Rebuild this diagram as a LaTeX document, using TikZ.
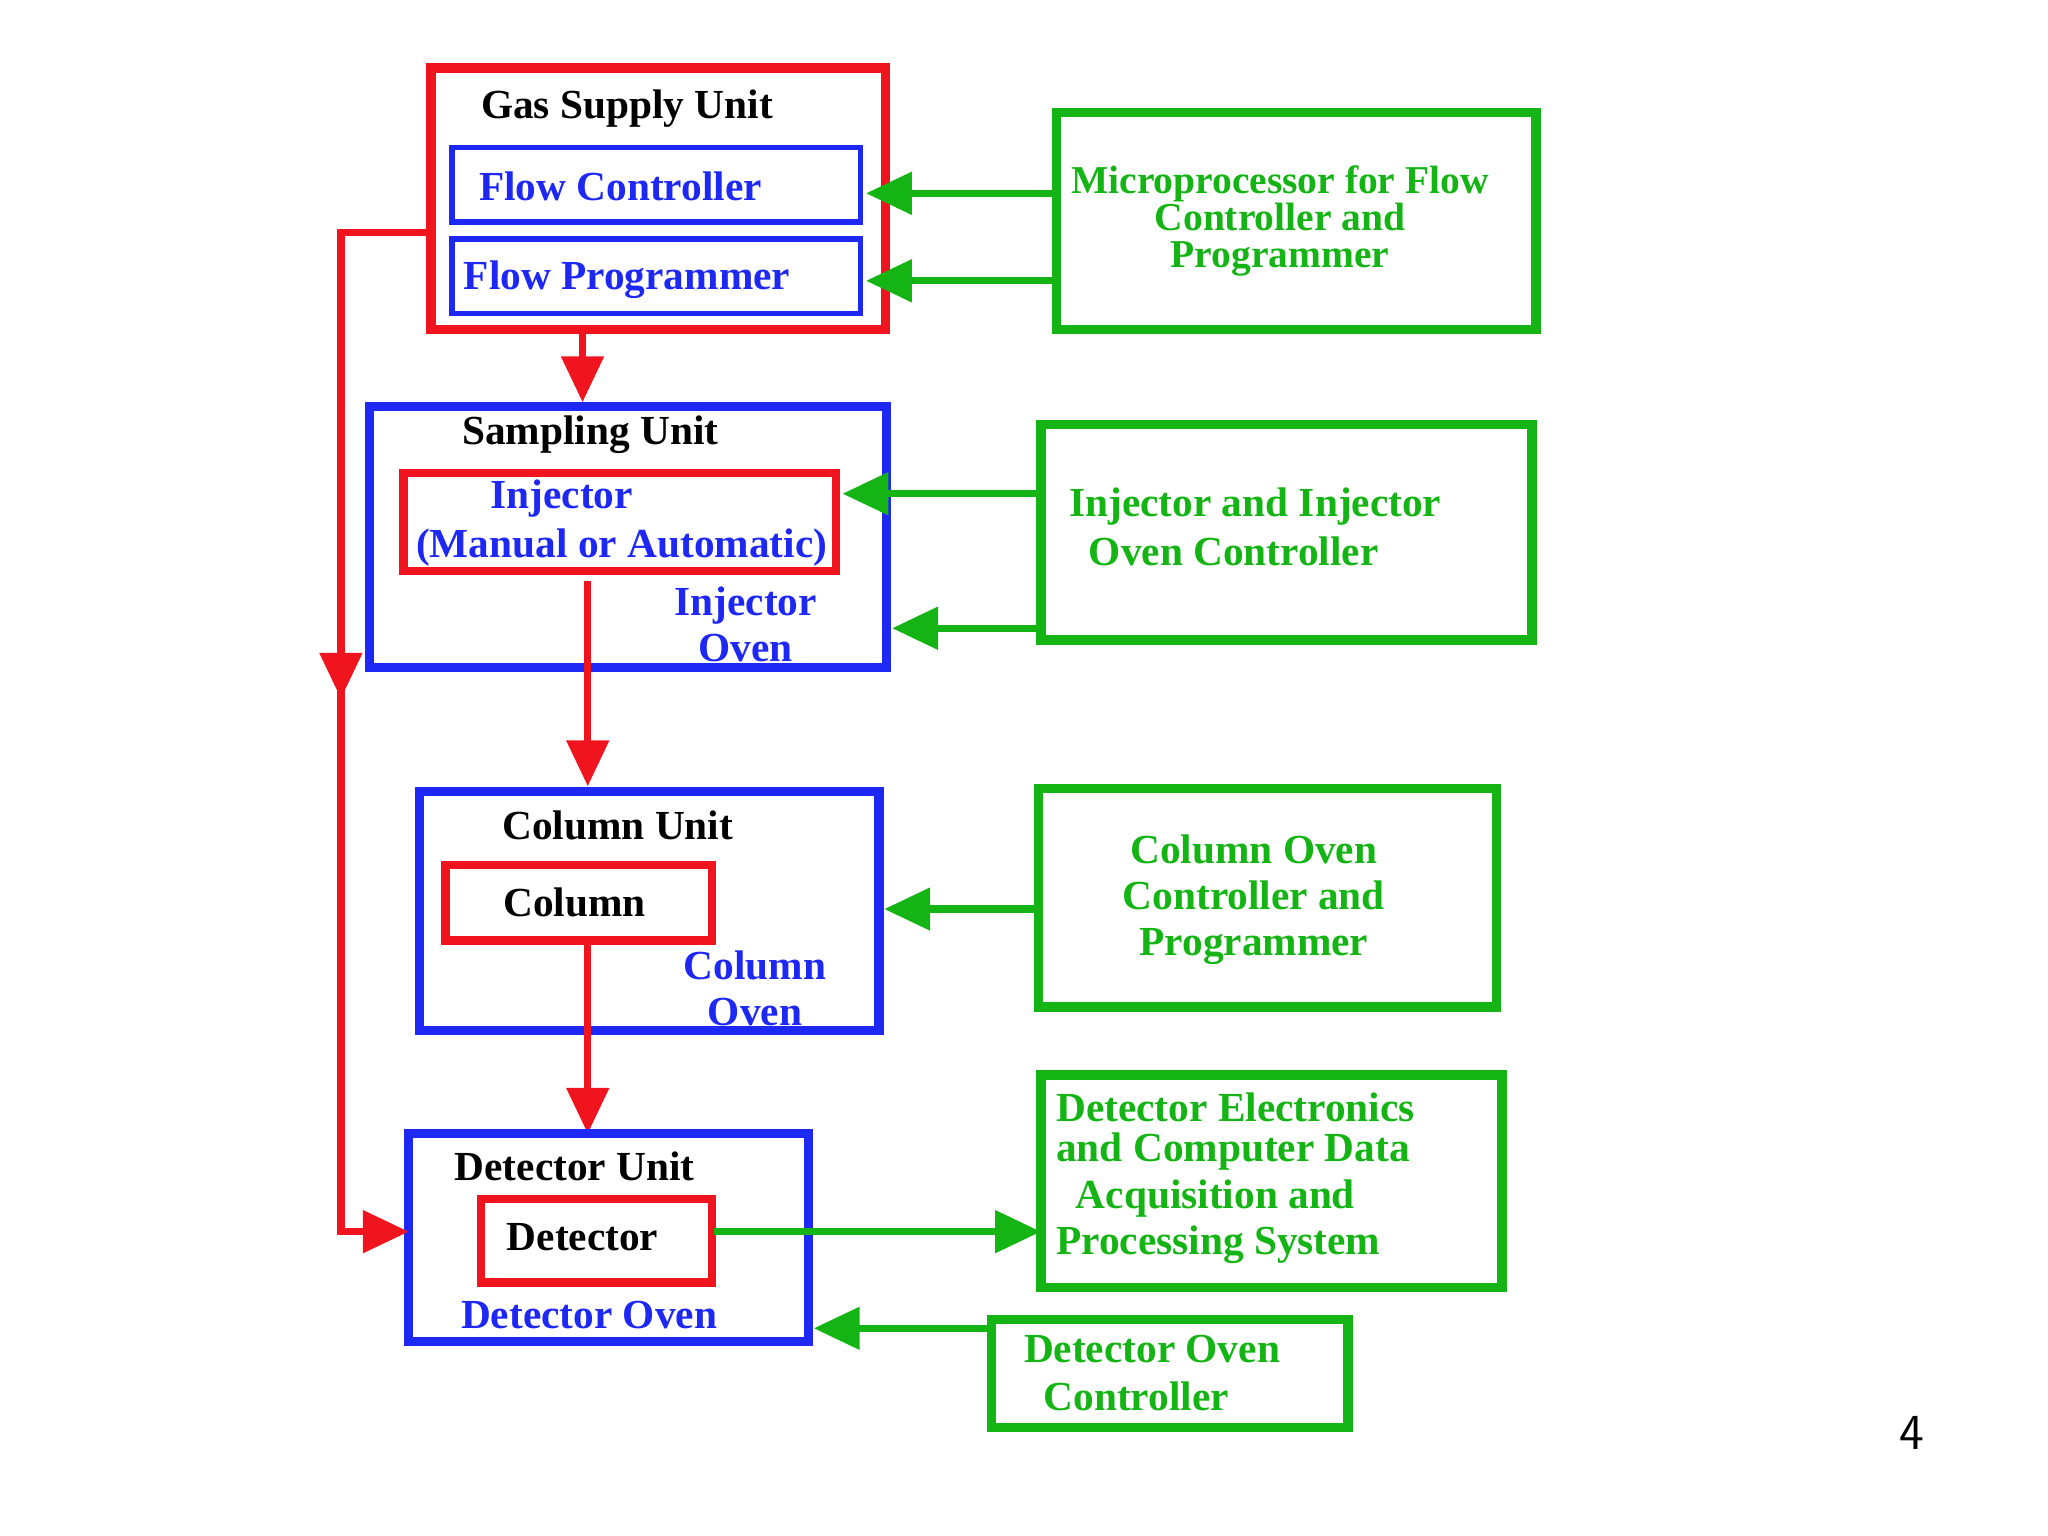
\documentclass[tikz,border=0pt]{standalone}
\usepackage{fontspec}
\setmainfont{Liberation Serif}
\usetikzlibrary{arrows.meta}
\definecolor{gr}{RGB}{20,180,20}
\definecolor{bl}{RGB}{30,40,245}
\definecolor{rd}{RGB}{240,20,30}
\begin{document}
\begin{tikzpicture}[x=0.01cm,y=-0.01cm,
 box/.style={draw,line width=2pt},
 ibox/.style={draw,line width=1.2pt},
 t/.style={font=\fontsize{9}{10}\selectfont\bfseries,inner sep=0pt},
 ga/.style={draw=gr,line width=1.6pt,-{Triangle[length=10pt,width=9pt]}},
 ra/.style={draw=rd,line width=1.6pt,-{Triangle[length=10pt,width=9pt]}}]
\useasboundingbox (0,0) rectangle (1568,1176);
% Gas supply
\draw[box,rd] (330,52) rectangle (678,252);
\node[t] (gst) at (480,83) {Gas Supply Unit};
\draw[ibox,bl] (346,113) rectangle (659,170);
\node[t,text=bl] (fc) at (475,143) {Flow Controller};
\draw[ibox,bl] (346,183) rectangle (659,240);
\node[t,text=bl] (fp) at (480,214) {Flow Programmer};
\draw[box,gr] (809,86) rectangle (1176,252);
\node[t,text=gr,align=center,font=\fontsize{8.6}{8}\selectfont\bfseries] (g1) at (980,169) {Microprocessor for Flow\\Controller and\\Programmer};
\coordinate (a1) at (809,148); \coordinate (b1) at (663,148);
\coordinate (a2) at (809,215); \coordinate (b2) at (663,215);
\draw[ga] (a1) -- (b1); \draw[ga] (a2) -- (b2);
\coordinate (r1) at (446,252); \coordinate (r1e) at (446,308);
\draw[ra] (r1) -- (r1e);
% Sampling
\draw[box,bl] (283,311) rectangle (679,511);
\node[t] (su) at (452,333) {Sampling Unit};
\draw[box,rd,line width=1.8pt] (309,362) rectangle (640,437);
\node[t,text=bl] (inj) at (430,382) {Injector};
\node[t,text=bl] (ma) at (476,419) {(Manual or Automatic)};
\node[t,text=bl,align=center] (io) at (571,478) {Injector\\Oven};
\draw[box,gr] (797,325) rectangle (1173,490);
\node[t,text=gr,anchor=west] (g2a) at (818,388) {Injector and Injector};
\node[t,text=gr,anchor=west] (g2b) at (833,422) {Oven Controller};
\coordinate (a3) at (797,378); \coordinate (b3) at (645,378);
\coordinate (a4) at (797,481); \coordinate (b4) at (683,481);
\draw[ga] (a3) -- (b3); \draw[ga] (a4) -- (b4);
\coordinate (r2) at (450,445); \coordinate (r2e) at (450,602);
\draw[ra] (r2) -- (r2e);
% Column
\draw[box,bl] (321,606) rectangle (673,789);
\node[t] (cu) at (473,632) {Column Unit};
\draw[box,rd,line width=1.8pt] (341,662) rectangle (545,720);
\node[t] (col) at (440,691) {Column};
\node[t,text=bl,align=center] (co) at (578,757) {Column\\Oven};
\draw[box,gr] (795,604) rectangle (1146,771);
\node[t,text=gr,align=center] (g3) at (960,689) {Column Oven\\Controller and\\Programmer};
\coordinate (a5) at (795,696); \coordinate (b5) at (677,696);
\draw[ga] (a5) -- (b5);
\coordinate (r3) at (450,720); \coordinate (r3e) at (450,868);
\draw[ra] (r3) -- (r3e);
% Detector
\draw[box,bl] (313,868) rectangle (619,1027);
\node[t] (du) at (440,893) {Detector Unit};
\draw[box,rd,line width=1.8pt] (368,918) rectangle (545,982);
\node[t] (det) at (446,947) {Detector};
\node[t,text=bl] (dov) at (451,1007) {Detector Oven};
\draw[box,gr] (797,823) rectangle (1150,986);
\node[t,text=gr,anchor=west] (g4a) at (808,848) {Detector Electronics};
\node[t,text=gr,anchor=west] (g4b) at (808,882) {and Computer Data};
\node[t,text=gr,anchor=west] (g4c) at (823,918) {Acquisition and};
\node[t,text=gr,anchor=west] (g4d) at (808,953) {Processing System};
\coordinate (a6) at (547,943); \coordinate (b6) at (797,943);
\draw[ga] (a6) -- (b6);
\draw[box,gr] (759,1010) rectangle (1032,1093);
\node[t,text=gr] (g5a) at (882,1033) {Detector Oven};
\node[t,text=gr] (g5b) at (870,1069) {Controller};
\coordinate (a7) at (759,1017); \coordinate (b7) at (623,1017);
\draw[ga] (a7) -- (b7);
% bypass
\coordinate (p0) at (330,178); \coordinate (p1) at (261,178);
\coordinate (pm) at (261,535); \coordinate (p2) at (261,943);
\coordinate (p3) at (313,943);
\draw[ra] (p0) -- (p1) -- (p2) -- (p3);
\draw[ra] (p1) -- (pm);
\node[font=\fontsize{11}{12}\selectfont\sffamily] (pg) at (1464,1097) {4};
\end{tikzpicture}
\end{document}
